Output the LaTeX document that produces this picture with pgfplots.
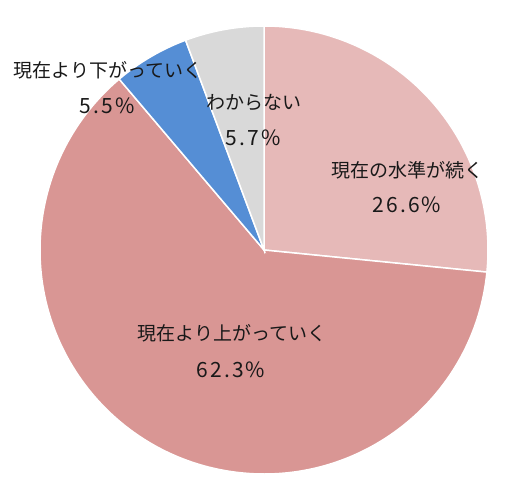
\documentclass[border=0pt]{standalone}
\usepackage{pgfplots}
\pgfplotsset{compat=1.18}
\usepackage{pgfplotstable}
\usepackage{fontspec}
\newfontfamily\cjk{Noto Sans CJK JP}
\newfontfamily\num[LetterSpace=10]{Noto Sans CJK JP}

\definecolor{pieA}{HTML}{E6B9B8}
\definecolor{pieB}{HTML}{D99694}
\definecolor{pieC}{HTML}{558ED5}
\definecolor{pieD}{HTML}{D9D9D9}

% shares in percent, clockwise from 12 o'clock
\pgfplotstableread{
share
26.6
62.3
5.5
5.7
}\piedata

\begin{document}
\begin{tikzpicture}
\pgfplotstablegetelem{0}{share}\of\piedata \let\sA\pgfplotsretval
\pgfplotstablegetelem{1}{share}\of\piedata \let\sB\pgfplotsretval
\pgfplotstablegetelem{2}{share}\of\piedata \let\sC\pgfplotsretval
\pgfplotstablegetelem{3}{share}\of\piedata \let\sD\pgfplotsretval
\pgfmathsetmacro\tot{\sA+\sB+\sC+\sD}
\pgfmathsetmacro\tA{90}
\pgfmathsetmacro\tB{\tA-\sA/\tot*360}
\pgfmathsetmacro\tC{\tB-\sB/\tot*360}
\pgfmathsetmacro\tD{\tC-\sC/\tot*360}
\pgfmathsetmacro\tE{\tD-\sD/\tot*360}

\begin{axis}[
  scale only axis,
  width=506bp, height=498bp,
  xmin=0, xmax=506, ymin=0, ymax=498,
  hide axis, clip=false,
]
\path (axis cs:0,0) rectangle (axis cs:506,498);

\fill[fill=pieA, draw=white, line width=1.5pt] (axis cs:264,248) -- ++(\tA:224bp) arc[start angle=\tA, end angle=\tB, radius=224bp] -- cycle;
\fill[fill=pieB, draw=white, line width=1.5pt] (axis cs:264,248) -- ++(\tB:224bp) arc[start angle=\tB, end angle=\tC, radius=224bp] -- cycle;
\fill[fill=pieC, draw=white, line width=1.5pt] (axis cs:264,248) -- ++(\tC:224bp) arc[start angle=\tC, end angle=\tD, radius=224bp] -- cycle;
\fill[fill=pieD, draw=white, line width=1.5pt] (axis cs:264,248) -- ++(\tD:224bp) arc[start angle=\tD, end angle=\tE, radius=224bp] -- cycle;

\tikzset{lab/.style={font=\cjk\fontsize{19bp}{21bp}\selectfont, inner sep=0pt, text=black!90},
         val/.style={font=\num\fontsize{21bp}{23bp}\selectfont, inner sep=0pt, text=black!90}}
\node[lab] at (axis cs:407,328) {現在の水準が続く};
\node[val] at (axis cs:407,293) {26.6\%};
\node[lab] at (axis cs:232,165) {現在より上がっていく};
\node[val] at (axis cs:231,128) {62.3\%};
\node[lab] at (axis cs:108,428) {現在より下がっていく};
\node[val] at (axis cs:107,392) {5.5\%};
\node[lab] at (axis cs:254,395) {わからない};
\node[val] at (axis cs:253,360) {5.7\%};
\end{axis}
\end{tikzpicture}
\end{document}
